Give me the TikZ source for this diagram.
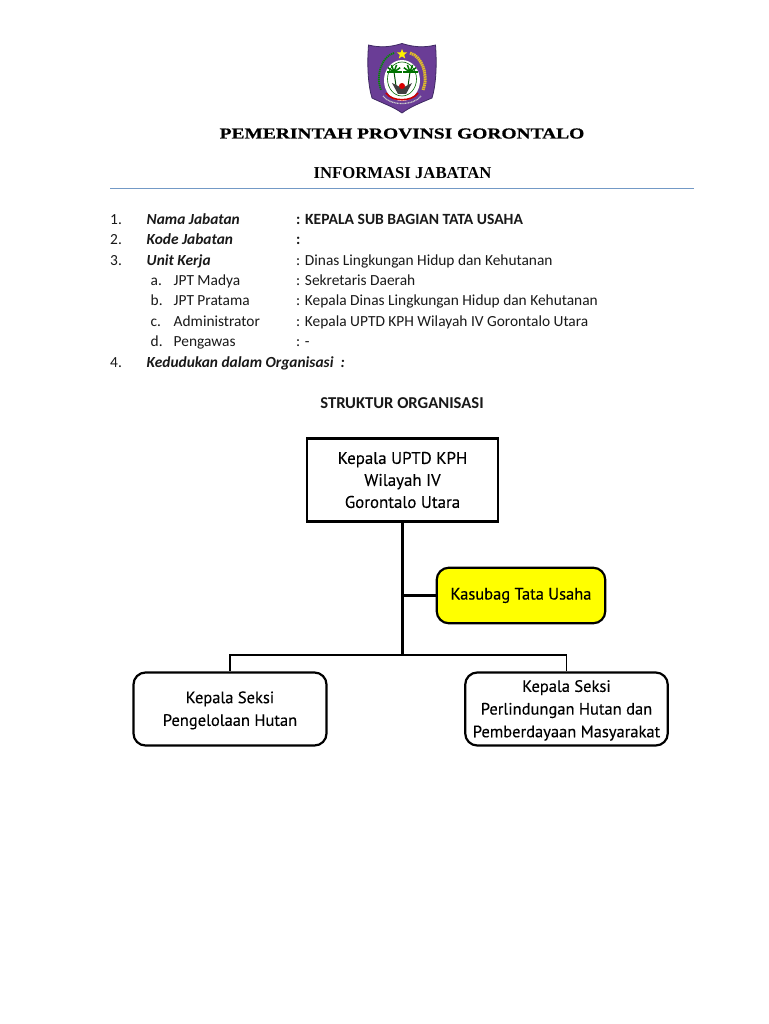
\documentclass[tikz,border=0pt]{standalone}
\usepackage{fontspec}
\setmainfont{Carlito}
\newfontfamily\boxfont[FakeBold=0.25]{PT Sans}
\newfontfamily\titlefont[BoldFeatures={FakeStretch=1.28,FakeBold=0.8}]{Liberation Serif}
\newfontfamily\headfont{Liberation Serif}
\tikzset{
  x=1pt,y=-1pt,
  row/.style={anchor=base west,inner sep=0pt,font=\fontsize{15.4}{17}\selectfont,text=black!90},
  rowi/.style={row,font=\fontsize{15.4}{17}\selectfont\bfseries\itshape},
  rowb/.style={row,font=\fontsize{15.6}{17}\selectfont\bfseries},
  box/.style={draw=black,line width=2.6pt,align=center,inner sep=0pt,font=\boxfont\fontsize{16.9}{22}\selectfont},
  rbox/.style={box,rounded corners=12pt,line width=2.2pt,font=\boxfont\fontsize{16.5}{22.7}\selectfont},
  conn/.style={draw=black,line width=2.5pt},
  connmid/.style={draw=black,line width=1.8pt},
  connthin/.style={draw=black,line width=1.3pt},
}
\definecolor{shieldpurple}{HTML}{6A3D96}
\definecolor{shieldedge}{HTML}{3F2A63}
\definecolor{rulecol}{HTML}{7399C6}
\definecolor{pureyellow}{RGB}{255,255,0}
\definecolor{wreathgold}{RGB}{225,190,40}
\begin{document}
\begin{tikzpicture}
\useasboundingbox[fill=white] (0,0) rectangle (768,1024);
% logo
\draw[fill=shieldpurple,draw=shieldedge,line width=.8pt] (368.5,45) .. controls (380,48) and (391,47) .. (402,43.5) .. controls (413,47) and (424,48) .. (435.5,45) .. controls (437,65) and (436,85) .. (432,98) .. controls (420,103) and (410,107) .. (402,113) .. controls (394,107) and (382,103) .. (372,98) .. controls (368,85) and (367,65) .. (368.5,45) -- cycle;
\draw[green!55!black,line width=1.8pt,dash pattern=on 1.2pt off .8pt] (394,53) .. controls (382,56) and (375,76) .. (381,90);
\draw[wreathgold,line width=3pt,dash pattern=on 1.5pt off .6pt] (410,53) .. controls (422,56) and (429,76) .. (423,90);
\fill[pureyellow!90!orange] (402,49) -- (403.4,52.5) -- (407,52.5) -- (404.2,54.8) -- (405.2,58.5) -- (402,56.4) -- (398.8,58.5) -- (399.8,54.8) -- (397,52.5) -- (400.6,52.5) -- cycle;
\fill[white] (402,80.5) ellipse (18 and 20.5);
\draw[green!40!black,line width=.6pt] (402,79) ellipse (14.5 and 17);
\draw[black!70!green,line width=1pt] (394,72) -- (396,86) (410,72) -- (408,86);
\foreach \a in {180,215,250,290,325,360}{\draw[green!45!black,line width=1.5pt] (394,72) -- ++(\a:7.5);\draw[green!45!black,line width=1.5pt] (410,72) -- ++(\a:7.5);}
\fill[black!75] (392,83) -- (402,88) -- (412,83) -- (406,94) -- (398,94) -- cycle;
\fill[red!85!black] (402,86) circle (3);
\draw[red!80!black,line width=1.6pt] (386,93) .. controls (392,102) and (412,102) .. (418,93);
\draw[white!80!black,line width=1.2pt,dash pattern=on 1pt off .6pt] (383,96) .. controls (390,106) and (414,106) .. (421,96);
% headings
\node[inner sep=0pt,anchor=base] (title) at (402,138.5) {\titlefont\bfseries\fontsize{15.2}{18}\selectfont PEMERINTAH PROVINSI GORONTALO};
\node[inner sep=0pt,anchor=base] (info) at (402.5,179) {\headfont\bfseries\fontsize{16.7}{20}\selectfont INFORMASI JABATAN};
\coordinate (ruleL) at (110,188.5);
\coordinate (ruleR) at (694,188.5);
\draw[rulecol,line width=1.4pt] (ruleL) -- (ruleR);
% rows
\node[row] (n1) at (110,224.5) {1.};
\node[rowi] (l1) at (146.5,224.5) {Nama Jabatan};
\node[rowb] (v1) at (296,224.5) {: KEPALA SUB BAGIAN TATA USAHA};
\node[row] (n2) at (110,244) {2.};
\node[rowi] (l2) at (146.5,244) {Kode Jabatan};
\node[rowb] (v2) at (296,244) {:};
\node[row] (n3) at (110,265) {3.};
\node[rowi] (l3) at (146.5,265) {Unit Kerja};
\node[row] (v3) at (296,265) {: Dinas Lingkungan Hidup dan Kehutanan};
\node[row] (na) at (150.5,285) {a.};
\node[row] (la) at (173.5,285) {JPT Madya};
\node[row] (va) at (296,285) {: Sekretaris Daerah};
\node[row] (nb) at (150.5,305.5) {b.};
\node[row] (lb) at (173.5,305.5) {JPT Pratama};
\node[row] (vb) at (296,305.5) {: Kepala Dinas Lingkungan Hidup dan Kehutanan};
\node[row] (nc) at (150.5,326) {c.};
\node[row] (lc) at (173.5,326) {Administrator};
\node[row] (vc) at (296,326) {: Kepala UPTD KPH Wilayah IV Gorontalo Utara};
\node[row] (nd) at (150.5,346) {d.};
\node[row] (ld) at (173.5,346) {Pengawas};
\node[row] (vd) at (296,346) {: -};
\node[row] (n4) at (110,367) {4.};
\node[rowi] (l4) at (146.5,367) {Kedudukan dalam Organisasi\ \ :};
\node[rowb,anchor=base,font=\fontsize{16.6}{18}\selectfont\bfseries] (struk) at (402,408) {STRUKTUR ORGANISASI};
% org chart
\node[box,minimum width=191pt,minimum height=82.5pt] (top) at (402.5,480) {Kepala UPTD KPH\\Wilayah IV\\Gorontalo Utara};
\node[rbox,fill=pureyellow,minimum width=168.5pt,minimum height=55.5pt] (kasubag) at (521,595.5) {Kasubag Tata Usaha};
\node[rbox,fill=white,minimum width=193pt,minimum height=73pt] (left) at (230,709) {\rule{0pt}{14.5pt}Kepala Seksi\\Pengelolaan Hutan};
\node[rbox,fill=white,minimum width=202.5pt,minimum height=73pt] (right) at (566.5,709) {\rule{0pt}{14.5pt}Kepala Seksi\\Perlindungan Hutan dan\\Pemberdayaan Masyarakat};
\coordinate (hub) at (402.5,655);
\draw[conn] (top.south) -- (hub);
\draw[conn] (kasubag.west) -- (kasubag.west -| hub);
\draw[connmid] (hub) -| (left.north);
\draw[connthin] (hub) -| (right.north);
\end{tikzpicture}
\end{document}
